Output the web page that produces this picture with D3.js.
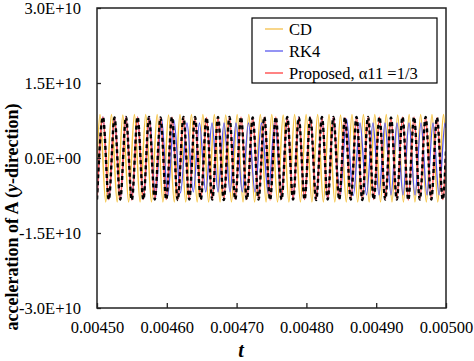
<!DOCTYPE html>
<html>
<head>
<meta charset="utf-8">
<script src="https://cdn.jsdelivr.net/npm/d3@7"></script>
<style>
  body { margin: 0; background: #fff; }
  svg { display: block; font-family: "Liberation Serif", "Times New Roman", serif; }
</style>
</head>
<body>
<div id="chart"></div>
<script>
// Chart size
const width = 474;
const height = 361;

// Axis ticks (time in microseconds, acceleration in 1e9 units)
const xTicks = [4500, 4600, 4700, 4800, 4900, 5000];
const xTickLabels = ["0.00450", "0.00460", "0.00470", "0.00480", "0.00490", "0.00500"];
const yTicks = [-30, -15, 0, 15, 30];
const yTickLabels = ["-3.0E+10", "-1.5E+10", "0.0E+00", "1.5E+10", "3.0E+10"];

// Series names shown in the legend
const seriesNames = ["CD", "RK4", "Proposed, \u03b111 =1/3"];

// Extrema: time (microseconds) and value (x 1e9)
const cdTime = [4500.0, 4504.3, 4512.5, 4520.7, 4528.9, 4537.0, 4545.3, 4553.6, 4561.7, 4569.8,
  4578.0, 4586.2, 4594.4, 4602.5, 4610.7, 4618.9, 4627.1, 4635.3, 4643.5, 4651.7,
  4659.9, 4668.1, 4676.3, 4684.4, 4692.6, 4700.8, 4709.2, 4717.5, 4725.8, 4734.0,
  4742.2, 4750.4, 4758.6, 4766.7, 4774.9, 4783.1, 4791.4, 4799.6, 4807.9, 4816.1,
  4824.3, 4832.4, 4840.7, 4848.9, 4857.1, 4865.3, 4873.5, 4881.7, 4889.9, 4898.0,
  4906.2, 4914.4, 4922.6, 4930.8, 4939.0, 4947.2, 4955.5, 4963.7, 4971.8, 4979.9,
  4988.2, 4996.4, 5000.0];
const cdValue = [-0.5, 8.7, -8.8, 8.7, -8.8, 8.6, -8.8, 8.7, -8.8, 8.7,
  -8.8, 8.7, -8.8, 8.6, -8.8, 8.7, -8.8, 8.7, -8.8, 8.7,
  -8.8, 8.7, -8.8, 8.6, -8.8, 8.7, -8.8, 8.7, -8.8, 8.7,
  -8.8, 8.7, -8.8, 8.6, -8.8, 8.7, -8.8, 8.7, -8.8, 8.7,
  -8.8, 8.7, -8.8, 8.6, -8.8, 8.7, -8.8, 8.7, -8.8, 8.7,
  -8.8, 8.7, -8.8, 8.6, -8.8, 8.7, -8.8, 8.7, -8.8, 8.7,
  -8.8, 8.7, 1.7];

const rk4Time = [4500.0, 4508.6, 4516.9, 4525.1, 4533.3, 4541.5, 4549.9, 4558.2, 4566.7, 4575.2,
  4583.8, 4592.4, 4601.4, 4610.3, 4619.6, 4628.9, 4637.9, 4646.8, 4655.8, 4664.8,
  4673.4, 4682.0, 4690.6, 4699.1, 4708.1, 4717.0, 4726.4, 4735.7, 4745.4, 4755.0,
  4763.8, 4772.6, 4780.9, 4789.1, 4797.4, 4805.7, 4814.0, 4822.3, 4830.5, 4838.7,
  4848.1, 4857.5, 4867.2, 4876.8, 4886.1, 4895.4, 4904.0, 4912.6, 4921.2, 4929.8,
  4938.4, 4947.0, 4955.6, 4964.2, 4972.8, 4981.4, 4990.0, 4998.6, 5000.0];
const rk4Value = [-8.3, 8.2, -8.3, 8.2, -8.3, 8.2, -8.3, 8.2, -8.2, 8.2,
  -8.0, 7.9, -7.6, 7.5, -7.0, 7.0, -6.8, 7.0, -6.8, 7.0,
  -6.8, 7.0, -6.8, 7.0, -6.8, 7.0, -6.8, 7.0, -7.2, 7.6,
  -8.0, 8.2, -8.3, 8.2, -8.3, 8.2, -8.3, 8.2, -8.3, 8.2,
  -8.0, 7.8, -7.5, 7.0, -7.4, 7.0, -7.4, 7.0, -7.4, 7.0,
  -7.4, 7.0, -7.4, 7.0, -7.4, 7.0, -7.4, 7.0, 6.0];

// Proposed method and the reference (black dashed) lie on top of each other
const proposedTime = [4500.0, 4508.6, 4516.9, 4525.1, 4533.3, 4541.5, 4549.9, 4558.2, 4566.4, 4574.5,
  4582.8, 4591.0, 4599.2, 4607.4, 4615.7, 4623.9, 4632.2, 4640.4, 4648.7, 4656.9,
  4665.2, 4673.4, 4681.6, 4689.8, 4698.1, 4706.3, 4714.7, 4723.1, 4731.4, 4739.7,
  4748.0, 4756.2, 4764.4, 4772.6, 4780.9, 4789.1, 4797.4, 4805.7, 4814.0, 4822.3,
  4830.5, 4838.7, 4847.0, 4855.3, 4863.6, 4871.8, 4880.1, 4888.3, 4896.5, 4904.7,
  4913.0, 4921.2, 4929.5, 4937.7, 4946.0, 4954.2, 4962.5, 4970.8, 4978.9, 4987.1,
  4995.4, 5000.0];
const proposedValue = [-8.3, 8.2, -8.3, 8.1, -8.3, 8.2, -8.4, 8.2, -8.3, 8.2,
  -8.3, 8.1, -8.3, 8.2, -8.4, 8.2, -8.3, 8.2, -8.3, 8.1,
  -8.3, 8.2, -8.4, 8.2, -8.3, 8.2, -8.3, 8.1, -8.3, 8.2,
  -8.4, 8.2, -8.3, 8.2, -8.3, 8.1, -8.3, 8.2, -8.4, 8.2,
  -8.3, 8.2, -8.3, 8.1, -8.3, 8.2, -8.4, 8.2, -8.3, 8.2,
  -8.3, 8.1, -8.3, 8.2, -8.4, 8.2, -8.3, 8.2, -8.3, 8.1,
  -8.3, 1.5];

const svg = d3.select('#chart').append('svg')
    .attr('width', width)
    .attr('height', height);

// Plot area
const plot = { left: 97, right: 446, top: 8, bottom: 308 };

const x = d3.scaleLinear().domain([4500, 5000]).range([plot.left, plot.right]);
const y = d3.scaleLinear().domain([-30, 30]).range([plot.bottom, plot.top]);

function zip(ts, vs) {
    const n = Math.min(ts.length, vs.length);
    return d3.range(n).map(i => ({ t: ts[i], v: vs[i] }));
}

svg.append('clipPath').attr('id', 'clip')
  .append('rect')
    .attr('x', plot.left).attr('y', plot.top)
    .attr('width', plot.right - plot.left).attr('height', plot.bottom - plot.top);

const line = d3.line()
    .x(d => x(d.t))
    .y(d => y(d.v))
    .curve(d3.curveMonotoneX);

const lines = svg.append('g').attr('clip-path', 'url(#clip)');

lines.append('path')
    .attr('d', line(zip(cdTime, cdValue)))
    .attr('fill', 'none')
    .attr('stroke', '#f6c343')
    .attr('stroke-width', 1.5);

lines.append('path')
    .attr('d', line(zip(rk4Time, rk4Value)))
    .attr('fill', 'none')
    .attr('stroke', '#5555f0')
    .attr('stroke-width', 1.3);

lines.append('path')
    .attr('d', line(zip(proposedTime, proposedValue)))
    .attr('fill', 'none')
    .attr('stroke', '#ff5a5a')
    .attr('stroke-width', 1.7);

lines.append('path')
    .attr('d', line(zip(proposedTime, proposedValue)))
    .attr('fill', 'none')
    .attr('stroke', '#000')
    .attr('stroke-width', 2.4)
    .attr('stroke-dasharray', '4,3');

// Axes with inward ticks
const xAxis = d3.axisBottom(x)
    .tickValues(xTicks)
    .tickFormat((d, i) => xTickLabels[i])
    .tickSizeInner(-5)
    .tickSizeOuter(0)
    .tickPadding(13);

const yAxis = d3.axisLeft(y)
    .tickValues(yTicks)
    .tickFormat((d, i) => yTickLabels[i])
    .tickSizeInner(-4)
    .tickSizeOuter(0)
    .tickPadding(16);

const gx = svg.append('g')
    .attr('transform', `translate(0,${plot.bottom})`)
    .call(xAxis);
const gy = svg.append('g')
    .attr('transform', `translate(${plot.left},0)`)
    .call(yAxis);

[gx, gy].forEach(g => {
    g.select('.domain').remove();
    g.selectAll('text')
        .attr('font-family', '"Liberation Serif", serif')
        .attr('font-size', 16.5)
        .attr('fill', '#000');
    g.selectAll('line').attr('stroke', '#222').attr('stroke-width', 1.3);
});

// Frame
svg.append('rect')
    .attr('x', plot.left).attr('y', plot.top)
    .attr('width', plot.right - plot.left).attr('height', plot.bottom - plot.top)
    .attr('fill', 'none')
    .attr('stroke', '#222')
    .attr('stroke-width', 1.5);

// Axis titles
svg.append('text')
    .attr('x', 241).attr('y', 357)
    .attr('text-anchor', 'middle')
    .attr('font-size', 20)
    .attr('font-weight', 'bold')
    .attr('font-style', 'italic')
    .text('t');

const yTitle = svg.append('text')
    .attr('transform', 'translate(18,217) rotate(-90)')
    .attr('text-anchor', 'middle')
    .attr('font-size', 18)
    .attr('font-weight', 'bold');
yTitle.append('tspan').text('acceleration of A (');
yTitle.append('tspan').attr('font-style', 'italic').text('y');
yTitle.append('tspan').text('-direction)');

// Legend
const legendColors = ['#f6c863', '#7070f0', '#ff5a5a'];
const legend = svg.append('g');
legend.append('rect')
    .attr('x', 252).attr('y', 18)
    .attr('width', 185).attr('height', 65)
    .attr('fill', '#fff')
    .attr('stroke', '#000')
    .attr('stroke-width', 1.2);

seriesNames.forEach((name, i) => {
    const ly = 29 + i * 22;
    legend.append('line')
        .attr('x1', 265).attr('x2', 283)
        .attr('y1', ly).attr('y2', ly)
        .attr('stroke', legendColors[i])
        .attr('stroke-width', 1.5);
    legend.append('text')
        .attr('x', 289).attr('y', ly + 6)
        .attr('font-size', 16.5)
        .text(name);
});
</script>
</body>
</html>
